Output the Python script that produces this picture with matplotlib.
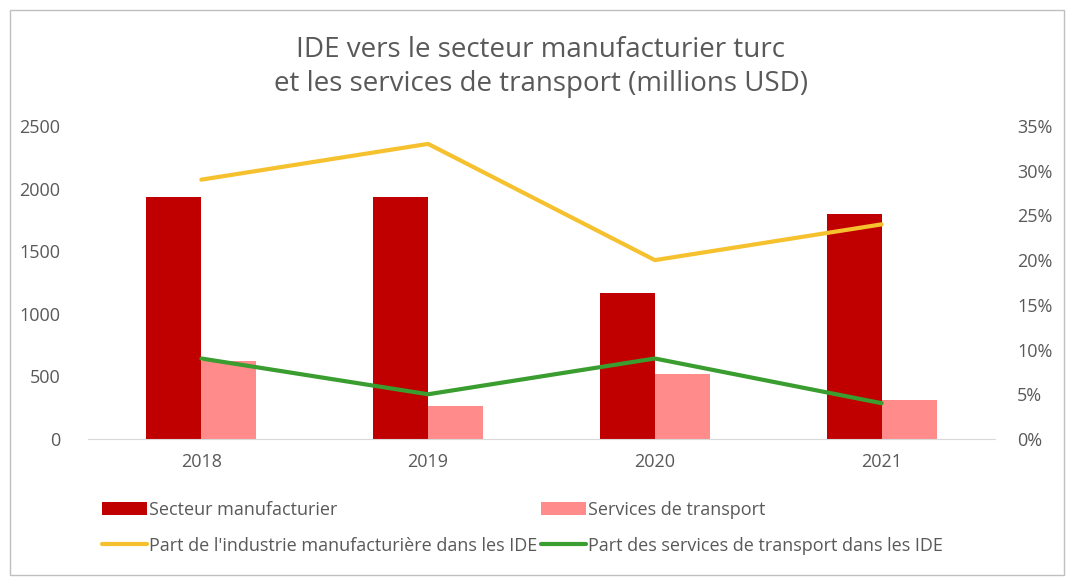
import matplotlib.pyplot as plt
import numpy as np
from matplotlib.patches import Rectangle
from matplotlib.ticker import FuncFormatter

plt.rcParams["font.family"] = ["Open Sans", "DejaVu Sans"]

years = ["2018", "2019", "2020", "2021"]
manufacturier = [1930, 1930, 1165, 1795]
transport = [625, 265, 515, 315]
part_manuf = [29, 33, 20, 24]
part_transport = [9, 5, 9, 4]

RED = "#C00000"
PINK = "#FF8B8B"
YELLOW = "#F6C12F"
GREEN = "#3A9D2F"
GRAY = "#595959"

fig = plt.figure(figsize=(10.82, 5.86), dpi=100)
ax = fig.add_axes([0.0813, 0.2509, 0.8383, 0.5341])
ax2 = ax.twinx()

x = np.arange(len(years))
w = 0.242
b1 = ax.bar(x - w / 2, manufacturier, w, color=RED, label="Secteur manufacturier", zorder=2)
b2 = ax.bar(x + w / 2, transport, w, color=PINK, label="Services de transport", zorder=2)

l1, = ax2.plot(x, part_manuf, color=YELLOW, lw=3, solid_capstyle="round",
               label="Part de l'industrie manufacturière dans les IDE")
l2, = ax2.plot(x, part_transport, color=GREEN, lw=3, solid_capstyle="round",
               label="Part des services de transport dans les IDE")

ax.set_xlim(-0.5, 3.5)
ax.set_ylim(0, 2500)
ax.set_yticks(range(0, 2501, 500))
ax2.set_ylim(0, 35)
ax2.set_yticks(range(0, 36, 5))
ax2.yaxis.set_major_formatter(FuncFormatter(lambda v, p: f"{int(v)}%"))
ax.set_xticks(x)
ax.set_xticklabels(years)

for a in (ax, ax2):
    for s in a.spines.values():
        s.set_visible(False)
    a.tick_params(length=0, labelsize=13, colors=GRAY)
ax.spines["bottom"].set_visible(True)
ax.spines["bottom"].set_color("#D9D9D9")
ax.spines["bottom"].set_zorder(3)
ax.tick_params(axis="y", pad=20)
ax.tick_params(axis="x", pad=10)
ax2.tick_params(axis="y", pad=16)

fig.text(0.5, 0.886, "IDE vers le secteur manufacturier turc\net les services de transport (millions USD)",
         ha="center", va="center", fontsize=20, color=GRAY, linespacing=1.3)

fig.legend([b1, l1, b2, l2],
           [b1.get_label(), l1.get_label(), b2.get_label(), l2.get_label()],
           ncol=2, loc="upper left", bbox_to_anchor=(0.086, 0.161),
           frameon=False, fontsize=13, labelcolor=GRAY,
           handlelength=2.5, handleheight=0.7, handletextpad=0.1,
           columnspacing=0.2, labelspacing=1.0, borderpad=0)

fig.patches.append(Rectangle((0.009, 0.018), 0.974, 0.965, transform=fig.transFigure,
                             fill=False, edgecolor="#BFBFBF", lw=1))

fig.savefig("out.png", dpi=100)
